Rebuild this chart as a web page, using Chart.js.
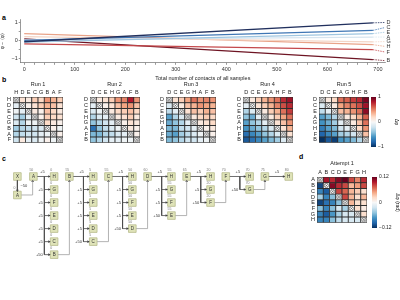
<!DOCTYPE html>
<html><head><meta charset="utf-8">
<script src="https://cdn.jsdelivr.net/npm/chart.js@4/dist/chart.umd.min.js"></script>
<style>
body{margin:0;background:#fff;width:400px;height:300px;position:relative;overflow:hidden;font-family:"Liberation Sans",Arial,sans-serif;}
canvas{position:absolute;}
.t{position:absolute;color:#222;white-space:nowrap;font-size:5.5px;text-align:center;}
.p{position:absolute;font-weight:bold;font-size:7px;color:#000;}
</style></head><body>
<div class="p" style="left:2px;top:14px">a</div>
<div class="p" style="left:2px;top:76px">b</div>
<div class="p" style="left:2px;top:155px">c</div>
<div class="p" style="left:299px;top:153px">d</div>
<script>
// ---------- panel a data ----------
const lineNames = ['D','C','E','A','G','H','F','B'];
const contactsX = [0, 690, 714];
const phiD = [-0.08, 0.97, 0.99];
const phiC = [0.00, 0.55, 0.71];
const phiE = [-0.10, 0.37, 0.45];
const phiA = [0.02, 0.18, 0.18];
const phiG = [0.20, -0.09, -0.07];
const phiH = [0.37, -0.24, -0.34];
const phiF = [-0.20, -0.52, -0.65];
const phiB = [0.08, -1.07, -1.13];
const lineColors = ['#21305e','#3f76b4','#9ec5e0','#d6e4ef','#f3d5c6','#e9a388','#c4484b','#6e1423'];
const xTickLabels = ['0','100','200','300','400','500','600','700'];

// ---------- panel b data ----------
const runTitles = ['Run 1','Run 2','Run 3','Run 4','Run 5'];
const run1Labels = ['H','D','E','C','G','B','A','F'];
const run2Labels = ['D','C','E','H','G','A','F','B'];
const run3Labels = ['D','C','E','G','H','A','F','B'];
const run4Labels = ['D','C','E','G','A','H','F','B'];
const run5Labels = ['D','C','E','A','G','H','F','B'];
const run1 = [
[null,0.15,0.10,0.25,0.20,0.45,0.35,0.25],
[-0.10,null,0.05,0.15,0.25,0.35,0.30,0.15],
[-0.05,-0.10,null,0.10,0.05,0.30,0.20,0.10],
[-0.20,-0.35,-0.10,null,0.05,0.25,0.20,0.15],
[-0.15,-0.30,-0.05,-0.05,null,0.20,0.10,0.05],
[-0.35,-0.30,-0.25,-0.20,-0.15,null,0.05,-0.05],
[-0.30,-0.25,-0.20,-0.20,-0.10,-0.05,null,0.05],
[-0.20,0.10,-0.10,-0.15,-0.05,0.05,-0.05,null]];
const run2 = [
[null,0.10,0.15,0.25,0.45,0.50,0.80,0.45],
[-0.10,null,0.05,0.15,0.30,0.40,0.45,0.30],
[-0.15,-0.05,null,0.10,0.20,0.25,0.30,0.20],
[-0.30,-0.15,-0.10,null,0.10,0.15,0.25,0.10],
[-0.40,-0.30,-0.20,-0.10,null,0.05,0.15,0.10],
[-0.75,-0.40,-0.25,-0.15,-0.05,null,0.10,0.05],
[-0.45,-0.45,-0.30,-0.25,-0.15,-0.10,null,0.05],
[-0.40,-0.30,-0.20,-0.10,-0.10,-0.05,-0.05,null]];
const run3 = [
[null,0.15,0.25,0.40,0.55,0.45,0.50,0.45],
[-0.15,null,0.10,0.30,0.35,0.45,0.40,0.35],
[-0.25,-0.10,null,0.15,0.30,0.25,0.35,0.30],
[-0.55,-0.30,-0.15,null,0.10,0.20,0.25,0.20],
[-0.50,-0.40,-0.30,-0.10,null,0.10,0.15,0.20],
[-0.45,-0.45,-0.25,-0.20,-0.10,null,0.05,0.10],
[-0.50,-0.55,-0.35,-0.25,-0.15,-0.05,null,0.05],
[-0.45,-0.40,-0.30,-0.20,-0.20,-0.10,-0.05,null]];
const run4 = [
[null,0.10,0.25,0.35,0.45,0.55,0.75,0.85],
[-0.10,null,0.15,0.25,0.35,0.50,0.65,0.75],
[-0.30,-0.15,null,0.10,0.25,0.35,0.55,0.70],
[-0.40,-0.50,-0.10,null,0.10,0.25,0.40,0.55],
[-0.55,-0.40,-0.30,-0.10,null,0.15,0.30,0.45],
[-0.60,-0.50,-0.40,-0.30,-0.15,null,0.15,0.35],
[-0.75,-0.65,-0.55,-0.40,-0.30,-0.15,null,0.15],
[-0.85,-0.75,-0.65,-0.55,-0.45,-0.35,-0.15,null]];
const run5 = [
[null,0.10,0.20,0.55,0.60,0.70,0.75,0.95],
[-0.15,null,0.10,0.40,0.50,0.55,0.65,0.85],
[-0.25,-0.10,null,0.30,0.35,0.45,0.55,0.90],
[-0.55,-0.45,-0.30,null,0.10,0.20,0.35,0.60],
[-0.60,-0.50,-0.35,-0.10,null,0.10,0.30,0.55],
[-0.70,-0.55,-0.45,-0.20,-0.10,null,0.20,0.45],
[-0.80,-0.65,-0.55,-0.35,-0.30,-0.20,null,0.30],
[-1.00,-0.85,-0.95,-0.60,-0.55,-0.45,-0.30,null]];
const cbarBTicks = [-1, 0, 1];
const cbarBLabels = ['−1','0','1'];

// ---------- panel d data ----------
const attLabels = ['A','B','C','D','E','F','G','H'];
const attempt1 = [
[null,0.10,0.09,0.11,0.12,0.08,0.06,0.09],
[-0.11,null,0.11,0.09,0.08,0.04,0.05,0.08],
[-0.08,-0.10,null,0.08,0.07,0.04,0.03,0.02],
[-0.04,-0.08,-0.05,null,0.08,0.04,0.02,0.04],
[-0.11,-0.09,-0.08,-0.05,null,0.04,0.02,0.02],
[-0.05,-0.08,-0.05,-0.02,-0.04,null,0.02,0.01],
[-0.08,-0.10,-0.07,-0.04,-0.02,-0.02,null,0.02],
[-0.08,-0.08,-0.05,-0.03,-0.02,-0.02,-0.02,null]];
const cbarDTicks = [-0.12, 0, 0.12];
const cbarDLabels = ['−0.12','0','0.12'];

// ---------- panel c data ----------
const cChains = [['H','G','F','E','D','C','B'],['H','G','F','E','D','C'],['H','G','F','E','D'],['H','G','F','E'],['H','G','F'],['H','G'],['H']];
const cTops = ['B','C','D','E','F','G'];
const cNums = ['0','5','50','55','20','70','80'];
const cTopNums = ['55','55','60','65','70','75'];
const cStepSmall = '+5', cStepBig = '+50', cStepStart = '−50';

// ---------- helpers ----------
Chart.defaults.font.family = '"Liberation Sans", Arial, sans-serif';
Chart.defaults.color = '#222';
function mk(left, top, w, h){
  const c = document.createElement('canvas');
  c.width = w; c.height = h;
  c.style.left = left+'px'; c.style.top = top+'px';
  c.style.width = w+'px'; c.style.height = h+'px';
  document.body.appendChild(c); return c;
}
function txt(s, left, top, w, size, extra){
  const d = document.createElement('div'); d.className='t'; d.textContent=s;
  d.style.left=left+'px'; d.style.top=top+'px'; d.style.width=w+'px';
  if(size) d.style.fontSize=size+'px';
  if(extra) Object.assign(d.style, extra);
  document.body.appendChild(d);
}
const RD = [[-1,'#053061'],[-0.8,'#2166ac'],[-0.6,'#4393c3'],[-0.4,'#92c5de'],[-0.2,'#d1e5f0'],[0,'#f7f7f7'],[0.2,'#fddbc7'],[0.4,'#f4a582'],[0.6,'#d6604d'],[0.8,'#b2182b'],[1,'#67001f']];
function hex(h){return [parseInt(h.slice(1,3),16),parseInt(h.slice(3,5),16),parseInt(h.slice(5,7),16)];}
function rdbu(t){
  t=Math.max(-1,Math.min(1,t));
  for(let i=0;i<RD.length-1;i++){
    if(t<=RD[i+1][0]){
      const f=(t-RD[i][0])/(RD[i+1][0]-RD[i][0]); const a=hex(RD[i][1]), b=hex(RD[i+1][1]);
      return 'rgb('+a.map((v,k)=>Math.round(v+(b[k]-v)*f)).join(',')+')';
    }
  }
  return RD[RD.length-1][1];
}
const base = {responsive:false, animation:false, events:[], plugins:{legend:{display:false}, tooltip:{enabled:false}}};

// ---------- panel a ----------
(function(){
  const series = [phiD,phiC,phiE,phiA,phiG,phiH,phiF,phiB];
  const cv = mk(0, 0, 400, 82);
  const endLabels = {id:'endLabels', afterDatasetsDraw(ch){
    const ctx=ch.ctx; ctx.save(); ctx.font='5.5px "Liberation Sans", Arial'; ctx.fillStyle='#333'; ctx.textBaseline='middle';
    ch.data.datasets.forEach((ds,i)=>{ const m=ch.getDatasetMeta(i); const p=m.data[m.data.length-1]; ctx.fillText(ds.label, p.x+1.5, p.y); });
    ctx.restore(); }};
  new Chart(cv, {type:'line',
    data:{datasets: lineNames.map((n,i)=>({label:n, data: contactsX.map((x,j)=>({x, y: series[i][j]})),
      borderColor: lineColors[i], borderWidth:1.3, pointRadius:0, tension:0,
      segment:{borderDash: c => c.p0DataIndex===1 ? [1.5,1] : undefined, borderWidth: c => c.p0DataIndex===1 ? 0.8 : 1.3}}))},
    options:Object.assign({}, base, {
      layout:{padding:{left:0,right:15,top:19.6,bottom:0}},
      scales:{
        x:{type:'linear', min:-7, max:714,
           afterBuildTicks: ax=>{ const t=[]; for(let v=0; v<=700; v+=20) t.push({value:v}); ax.ticks=t; },
           ticks:{callback: v => v%100===0 ? xTickLabels[v/100] : '', font:{size:5.5}, color:'#333', padding:1, maxRotation:0, autoSkip:false},
           grid:{drawOnChartArea:false, tickLength:2, color:'#555', lineWidth:0.6},
           border:{color:'#555', width:0.6},
           title:{display:true, text:'Total number of contacts of all samples', font:{size:5.5}, color:'#222', padding:{top:1,bottom:0}},
           afterFit: s=>{ s.height=19.2; }},
        y:{type:'linear', min:-1.25, max:1.15,
           afterBuildTicks: ax=>{ ax.ticks=[-1,-0.5,0,0.5,1].map(v=>({value:v})); },
           ticks:{callback: v => v===1?'1':(v===0?'0':(v===-1?'−1':'')), font:{size:5.5}, color:'#333', padding:1, autoSkip:false},
           grid:{drawOnChartArea:false, tickLength:2, color:'#555', lineWidth:0.6},
           border:{color:'#555', width:0.6},
           title:{display:true, text:'φ − ⟨φ⟩', font:{size:5}, color:'#222', padding:0},
           afterFit: s=>{ s.width=20.7; }}
      }}),
    plugins:[endLabels]});
})();

// ---------- heatmaps ----------
const diagPlugin = n => ({id:'diag', afterDatasetsDraw(ch){
  const {ctx, scales:{x,y}} = ch; ctx.save(); ctx.strokeStyle='#333'; ctx.lineWidth=0.5;
  for(let i=0;i<n;i++){ const cx=x.getPixelForValue(i), cy=y.getPixelForValue(n-0.5-i);
    ctx.beginPath(); ctx.arc(cx,cy,2.1,0,Math.PI*2); ctx.stroke();
    ctx.beginPath(); ctx.moveTo(cx-1.2,cy-1.2); ctx.lineTo(cx+1.2,cy+1.2); ctx.moveTo(cx+1.2,cy-1.2); ctx.lineTo(cx-1.2,cy+1.2); ctx.stroke(); }
  ctx.restore(); }});
function heatmap(gx, gy, labels, M, vmax){
  const n = labels.length;
  const cv = mk(gx-12, gy-9, 63, 60);
  const datasets = [];
  for(let d=0; d<n; d++){ const r=n-1-d;
    datasets.push({data: labels.map(()=>1), backgroundColor: M[r].map(v => v===null ? '#ffffff' : rdbu(v/vmax)),
      borderColor:'#2e2e2e', borderWidth:0.8, borderSkipped:false, barPercentage:1, categoryPercentage:1}); }
  new Chart(cv, {type:'bar', data:{labels, datasets},
    options:Object.assign({}, base, {layout:{padding:{right:1,bottom:1,left:0,top:0}},
      scales:{
        x:{stacked:true, position:'top', grid:{display:false, drawTicks:false}, border:{display:false},
           ticks:{font:{size:5.5}, color:'#222', padding:1, maxRotation:0, autoSkip:false}, afterFit: s=>{ s.height=9; }},
        y:{stacked:true, min:0, max:n, grid:{display:false, drawTicks:false}, border:{display:false},
           afterBuildTicks: ax=>{ ax.ticks = labels.map((_,i)=>({value:n-0.5-i})); },
           ticks:{autoSkip:false, font:{size:5.5}, color:'#222', padding:2, callback: v => labels[Math.round(n-0.5-v)]},
           afterFit: s=>{ s.width=12; }}
      }}),
    plugins:[diagPlugin(n)]});
}
function colorbar(left, top, h, lo, hi, ticks, tickLabels, title){
  const cv = mk(left, top-5, 28, h+10);
  new Chart(cv, {type:'bar', data:{labels:['c'], datasets:[{data:[[lo,hi]], barPercentage:1, categoryPercentage:1, borderWidth:0,
    backgroundColor: c => { const ca=c.chart.chartArea; if(!ca) return '#ccc';
      const g=c.chart.ctx.createLinearGradient(0, ca.bottom, 0, ca.top); RD.forEach(s=>g.addColorStop((s[0]+1)/2, s[1])); return g; }}]},
    options:Object.assign({}, base, {layout:{padding:{top:5,bottom:5,left:0,right:0}},
      scales:{
        x:{display:false},
        y:{position:'right', min:lo, max:hi, grid:{display:false, drawTicks:false}, border:{display:false},
           afterBuildTicks: ax=>{ ax.ticks = ticks.map(v=>({value:v})); },
           ticks:{autoSkip:false, font:{size:5}, color:'#222', padding:2, callback: v => tickLabels[ticks.indexOf(v)]},
           title:{display:true, text:title, font:{size:5}, color:'#222', padding:0},
           afterFit: s=>{ s.width=23; }}
      }})});
}
const runLabels = [run1Labels, run2Labels, run3Labels, run4Labels, run5Labels];
const runs = [run1, run2, run3, run4, run5];
runs.forEach((M,k)=>{ const gx = 13 + 76.5*k; heatmap(gx, 97, runLabels[k], M, 1); txt(runTitles[k], gx, 81, 50, 5.5); });
colorbar(371, 97, 50, -1, 1, cbarBTicks, cbarBLabels, 'Δφ');
heatmap(317, 177, attLabels, attempt1, 0.12);
txt('Attempt 1', 317, 160, 50, 5.5);
colorbar(372, 177, 51, -0.12, 0.12, cbarDTicks, cbarDLabels, 'Δφ (rad)');

// ---------- panel c ----------
(function(){
  const boxes = [{x:-0.94,y:0,t:'X',num:''},{x:-0.53,y:0,t:'A',num:'50'},{x:-0.94,y:1.42,t:'A',num:'0'}];
  const dark = [], light = [], arrows = [], labels = [];
  dark.push([{x:-0.94,y:0.3},{x:-0.94,y:1.12}]); arrows.push({x:-0.94,y:1.08,r:180});
  labels.push({x:-0.86,y:0.7,t:cStepStart,a:'left'});
  light.push([{x:-0.84,y:1.42},{x:-0.55,y:1.42},{x:-0.55,y:0.3}]); arrows.push({x:-0.55,y:0.36,r:0});
  cChains.forEach((nodes,k)=>{
    const n = nodes.length;
    nodes.forEach((t,j)=>boxes.push({x:k,y:j,t,num:cNums[k]}));
    if(k<cTops.length) boxes.push({x:k+0.39,y:0,t:cTops[k],num:cTopNums[k]});
    const prevRight = k===0 ? -0.43 : (k-1)+0.49;
    dark.push([{x:prevRight,y:0},{x:k-0.11,y:0}]); arrows.push({x:k-0.13,y:0,r:90});
    labels.push({x:k-0.3,y:-0.35,t:cStepSmall,a:'center'});
    if(n>1){
      dark.push([{x:k-0.25,y:0},{x:k-0.25,y:n-1}]);
      for(let j=1;j<n;j++){ dark.push([{x:k-0.25,y:j},{x:k-0.11,y:j}]); arrows.push({x:k-0.13,y:j,r:90});
        labels.push({x:k-0.29,y:j,t:(j===n-1 && k<cTops.length)?cStepBig:cStepSmall,a:'right'}); }
    }
    if(k<cTops.length){ light.push([{x:k+0.1,y:n-1},{x:k+0.39,y:n-1},{x:k+0.39,y:0.3}]); arrows.push({x:k+0.39,y:0.36,r:0}); }
  });
  const ds = [];
  dark.forEach(p=>ds.push({type:'line', data:p, showLine:true, borderColor:'#4a4a4a', borderWidth:0.8, pointRadius:0}));
  light.forEach(p=>ds.push({type:'line', data:p, showLine:true, borderColor:'#a0a0a0', borderWidth:0.8, pointRadius:0}));
  ds.push({data:arrows.map(a=>({x:a.x,y:a.y})), pointStyle:'triangle', pointRadius:1.5, rotation:arrows.map(a=>a.r), backgroundColor:'#333', borderWidth:0});
  ds.push({data:boxes.map(b=>({x:b.x,y:b.y})), pointStyle:'rect', pointRadius:5.4, backgroundColor:'#dfe3b8', borderColor:'#b0b582', borderWidth:0.7});
  const textPlugin = {id:'ctext', afterDatasetsDraw(ch){
    const {ctx, scales:{x,y}} = ch; ctx.save(); ctx.textBaseline='middle';
    boxes.forEach(b=>{ const px=x.getPixelForValue(b.x), py=y.getPixelForValue(b.y);
      ctx.font='4.5px "Liberation Sans", Arial'; ctx.fillStyle='#333'; ctx.textAlign='center'; ctx.fillText(b.t, px, py+0.3);
      if(b.num){ ctx.font='3.5px "Liberation Sans", Arial'; ctx.fillStyle='#777'; ctx.textAlign='left'; ctx.fillText(b.num, px-4, py-6.5); } });
    labels.forEach(l=>{ ctx.font='4px "Liberation Sans", Arial'; ctx.fillStyle='#333'; ctx.textAlign=l.a; ctx.fillText(l.t, x.getPixelForValue(l.x), y.getPixelForValue(l.y)); });
    ctx.restore(); }};
  const cv = mk(0, 150, 310, 120);
  new Chart(cv, {type:'scatter', data:{datasets:ds},
    options:Object.assign({}, base, {layout:{padding:0},
      scales:{ x:{type:'linear', display:false, min:-1.2285, max:6.388}, y:{type:'linear', display:false, reverse:true, min:-1.566, max:6.71} }}),
    plugins:[textPlugin]});
})();
</script>
</body></html>
